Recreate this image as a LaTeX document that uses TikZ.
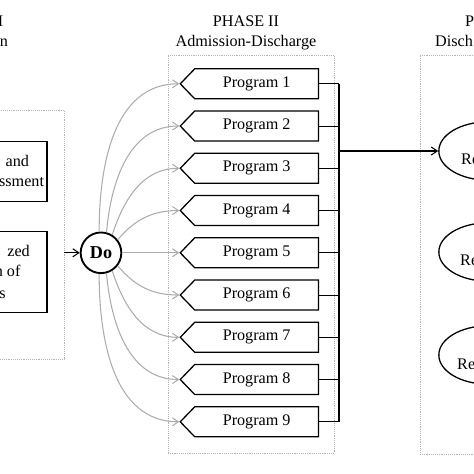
\documentclass[tikz,border=0pt]{standalone}
\usepackage{fontspec}
\setmainfont{Liberation Serif}
\usetikzlibrary{arrows.meta, positioning, calc, shapes.geometric, shapes.symbols}

\begin{document}
\begin{tikzpicture}[>={Straight Barb[length=1.8mm, width=2.4mm]}, font=\fontsize{13.8}{17.9}\selectfont,
    phase/.style={draw=gray!60, densely dotted, line width=0.6pt},
    lbox/.style={draw, line width=1.1pt, rectangle},
    prog/.style={draw, line width=1.1pt, signal, signal to=west, signal from=nowhere, signal pointer angle=92,
        minimum width=4.15cm, minimum height=0.9cm, inner sep=0pt},
    result/.style={draw, line width=1.1pt, ellipse, minimum width=2.95cm, minimum height=1.75cm},
    frag/.style={inner sep=0pt},
    spoke/.style={->, gray!65, line width=0.9pt},
    link/.style={line width=0.9pt}]
    \useasboundingbox (0,0) rectangle (14.22,14.22);
    \clip (0,0) rectangle (14.22,14.22);

    % Phase titles
    \node[frag, anchor=base] (t1a) at (-0.81,13.425) {PHASE I};
    \node[frag, anchor=base] (t1b) at (-0.81,12.81) {Admission};
    \node[frag, anchor=base] (t2a) at (7.38,13.425) {PHASE II};
    \node[frag, anchor=base] (t2b) at (7.38,12.81) {Admission-Discharge};
    \node[frag, anchor=base west] (t3a) at (13.95,13.425) {PHASE III};
    \node[frag, anchor=base west] (t3b) at (13.05,12.81) {Disch};

    % Phase frames (dotted)
    \node[phase, minimum width=5.46cm, minimum height=7.47cm] (frame1) at (-0.81,7.185) {};
    \node[phase, minimum width=4.98cm, minimum height=11.94cm] (frame2) at (7.53,6.6) {};
    \node[phase, minimum width=4.68cm, minimum height=11.97cm] (frame3) at (14.94,6.585) {};

    % Phase I boxes
    \node[lbox, minimum width=4.44cm, minimum height=1.8cm] (screen) at (-0.81,9.07) {};
    \node[frag, anchor=base east] (screen1) at (0.879,9.219) {and};
    \node[frag, anchor=base east] (screen2) at (1.329,8.619) {ssment};
    \node[lbox, minimum width=4.44cm, minimum height=2.43cm] (plan) at (-0.81,6.054) {};
    \node[frag, anchor=base east] (plan1) at (0.9,6.519) {zed};
    \node[frag, anchor=base east] (plan2) at (0.621,5.919) {n of};
    \node[frag, anchor=base east] (plan3) at (0.18,5.271) {s};

    % Do node
    \node[circle, draw, line width=1.6pt, minimum size=1.22cm, inner sep=0pt,
        font=\fontsize{15.5}{18}\selectfont\bfseries] (do) at (3.03,6.636) {Do};
    \draw[->, link] (frame1.east |- do.west) -- (do.west);

    % Programs
    \node[prog] (p1) at (7.7,11.706) {Program 1};
    \node[prog] (p2) at (7.7,10.439) {Program 2};
    \node[prog] (p3) at (7.7,9.171) {Program 3};
    \node[prog] (p4) at (7.7,7.904) {Program 4};
    \node[prog] (p5) at (7.7,6.636) {Program 5};
    \node[prog] (p6) at (7.7,5.369) {Program 6};
    \node[prog] (p7) at (7.7,4.101) {Program 7};
    \node[prog] (p8) at (7.7,2.834) {Program 8};
    \node[prog] (p9) at (7.7,1.566) {Program 9};

    % Spokes from Do to programs
    \draw[spoke] (do.95) to[out=90, in=180] (p1.west);
    \draw[spoke] (do.75) to[out=85, in=180] (p2.west);
    \draw[spoke] (do.58) to[out=72, in=180] (p3.west);
    \draw[spoke] (do.38) to[out=50, in=180] (p4.west);
    \draw[spoke] (do.east) -- (p5.west);
    \draw[spoke] (do.-38) to[out=-50, in=180] (p6.west);
    \draw[spoke] (do.-58) to[out=-72, in=180] (p7.west);
    \draw[spoke] (do.-75) to[out=-85, in=180] (p8.west);
    \draw[spoke] (do.-95) to[out=-90, in=180] (p9.west);

    % Bus to Phase III
    \coordinate (bustop) at (10.17,11.706);
    \coordinate (busbot) at (10.17,1.566);
    \draw[link] (bustop) -- (busbot);
    \draw[link] (p1.east) -- (p1.east -| bustop);
    \draw[link] (p2.east) -- (p2.east -| bustop);
    \draw[link] (p3.east) -- (p3.east -| bustop);
    \draw[link] (p4.east) -- (p4.east -| bustop);
    \draw[link] (p5.east) -- (p5.east -| bustop);
    \draw[link] (p6.east) -- (p6.east -| bustop);
    \draw[link] (p7.east) -- (p7.east -| bustop);
    \draw[link] (p8.east) -- (p8.east -| bustop);
    \draw[link] (p9.east) -- (p9.east -| bustop);

    % Phase III results
    \node[result] (res1) at (14.64,9.69) {};
    \node[result] (res2) at (14.64,6.66) {};
    \node[result] (res3) at (14.64,3.57) {};
    \node[frag, anchor=base west] (res1t) at (13.83,9.27) {Re};
    \node[frag, anchor=base west] (res2t) at (13.8,6.24) {Re};
    \node[frag, anchor=base west] (res3t) at (13.71,3.15) {Re};
    \draw[->, link] (bustop |- res1.west) -- (res1.west);
\end{tikzpicture}
\end{document}
